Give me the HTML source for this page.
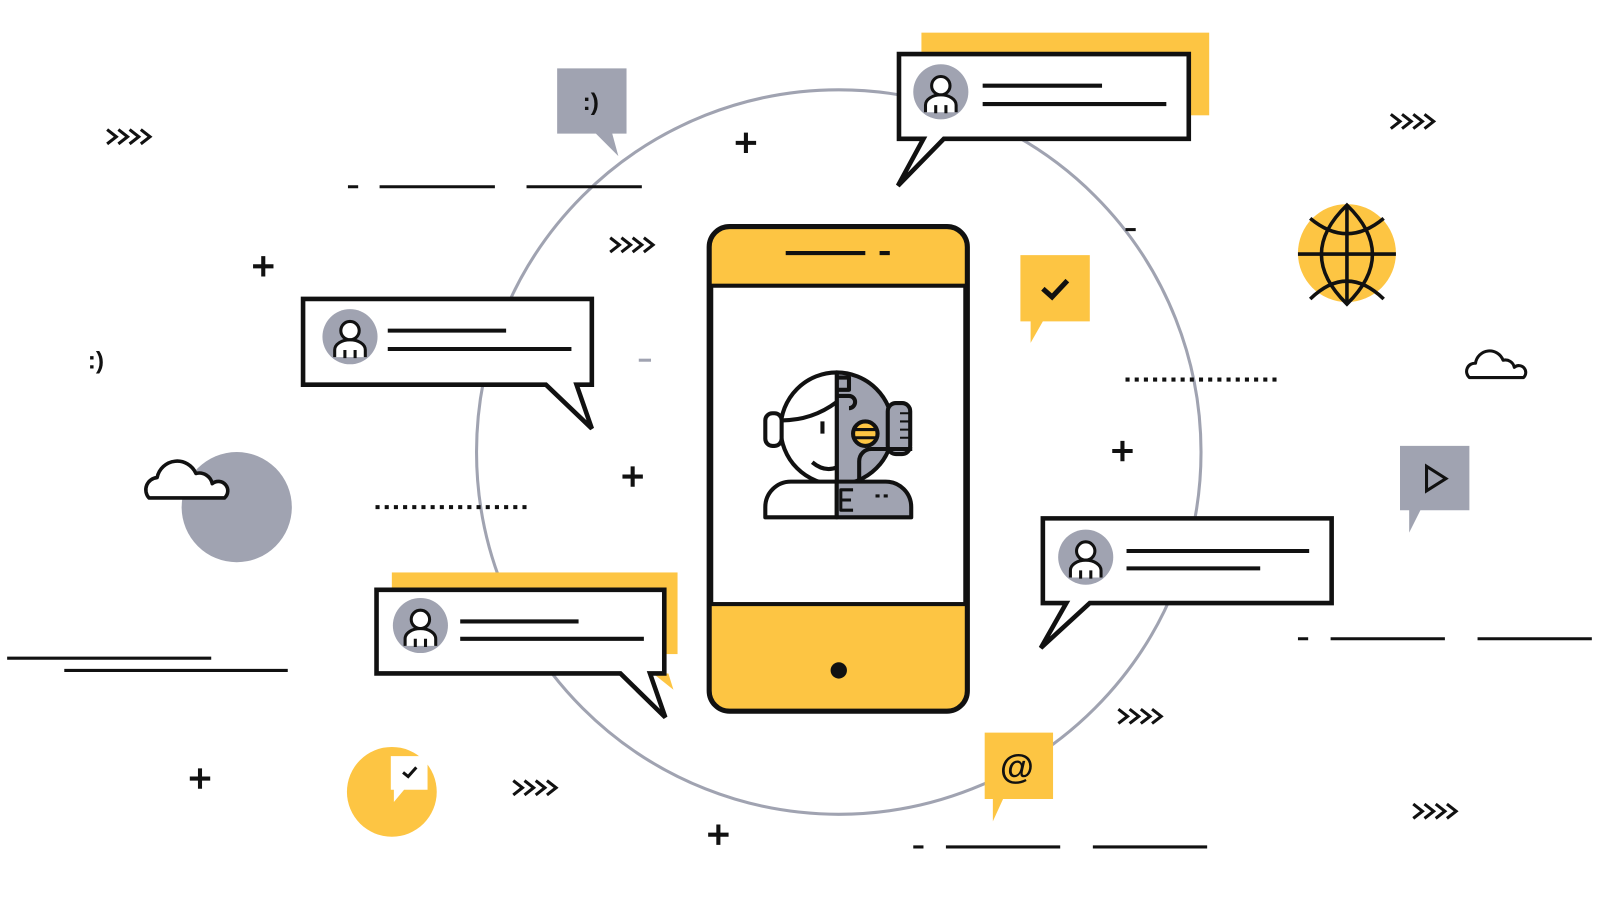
<!DOCTYPE html>
<html><head><meta charset="utf-8"><style>html,body{margin:0;padding:0;background:#fff;width:1600px;height:900px;overflow:hidden}svg{display:block}</style></head>
<body>
<svg width="1600" height="900" viewBox="0 0 1568 882" xmlns="http://www.w3.org/2000/svg" font-family="Liberation Sans, sans-serif">
<defs>
<g id="av"><circle r="27" fill="#a0a3b1"/><circle cy="-6" r="9" fill="#fff" stroke="#111" stroke-width="3"/><path d="M-15 20 v-7 a15 10 0 0 1 30 0 v7" fill="#fff" stroke="#111" stroke-width="3"/><path d="M-5 13v8M5 13v8" stroke="#111" stroke-width="3"/></g>
<g id="chev" fill="none" stroke="#111" stroke-width="3"><path d="M0 0l9 7-9 7M11 0l9 7-9 7M22 0l9 7-9 7M33 0l9 7-9 7"/></g>
<g id="plus" stroke="#111" stroke-width="4"><path d="M-10 0h20M0 -10v20"/></g>
</defs>
<circle cx="822" cy="443" r="355" fill="none" stroke="#a0a3b1" stroke-width="3"/>

<g stroke="#111" stroke-width="3">
<path d="M341 183h10M372 183h113M516 183h113"/>
<path d="M7 645h200M63 657h219"/>
<path d="M1272 626h10M1304 626h112M1448 626h112"/>
<path d="M895 830h10M927 830h112M1071 830h112"/>
<path d="M1103 225h10"/>
</g>
<path d="M626 353h12" stroke="#a0a3b1" stroke-width="3"/>
<path d="M368 497h148" stroke="#111" stroke-width="4" stroke-dasharray="4 5"/>
<path d="M1103 372h148" stroke="#111" stroke-width="4" stroke-dasharray="4 5"/>

<use href="#chev" x="105" y="127"/><use href="#chev" x="598" y="233"/><use href="#chev" x="1363" y="112"/>
<use href="#chev" x="1096" y="695"/><use href="#chev" x="503" y="765"/><use href="#chev" x="1385" y="788"/>
<use href="#plus" x="258" y="261"/><use href="#plus" x="731" y="140"/><use href="#plus" x="620" y="467"/>
<use href="#plus" x="1100" y="442"/><use href="#plus" x="196" y="763"/><use href="#plus" x="704" y="818"/>
<text x="86" y="361" font-size="24" font-weight="bold" fill="#111">:)</text>

<circle cx="232" cy="497" r="54" fill="#a0a3b1"/>
<path d="M146 488 a12 12 0 0 1 8-20 a20 20 0 0 1 38-4 a13 13 0 0 1 16 10 a8 8 0 0 1 12 14 z" fill="#fff" stroke="#111" stroke-width="3.5" stroke-linejoin="round"/>
<path d="M1440 370 a8 8 0 0 1 6-14 a14 14 0 0 1 27-3 a9 9 0 0 1 11 7 a6 6 0 0 1 9 10 z" fill="#fff" stroke="#111" stroke-width="3" stroke-linejoin="round"/>

<path d="M546 67h68v64h-14l6 22-22-22h-38z" fill="#a0a3b1"/>
<text x="571" y="108" font-size="24" font-weight="bold" fill="#111">:)</text>
<path d="M1000 250h68v65h-46l-12 21v-21h-10z" fill="#fdc543"/>
<path d="M1022 283l9 8 15-16" fill="none" stroke="#111" stroke-width="5"/>
<path d="M1372 437h68v63h-48l-11 22v-22h-9z" fill="#a0a3b1"/>
<path d="M1398 457v24l19-12z" fill="none" stroke="#111" stroke-width="3"/>
<path d="M965 718h67v65h-49l-10 22v-22h-8z" fill="#fdc543"/>
<text x="980" y="763" font-size="34" font-weight="bold" fill="#111">@</text>

<circle cx="1320" cy="248" r="48" fill="#fdc543"/>
<g fill="none" stroke="#111" stroke-width="3.5">
<path d="M1320 201 Q1270 249 1320 298 Q1370 249 1320 201z"/>
<path d="M1320 201v97M1272 249h96"/>
<path d="M1284 214 Q1320 244 1356 214"/>
<path d="M1284 293 Q1320 258 1356 293"/>
</g>

<circle cx="384" cy="776" r="44" fill="#fdc543"/>
<path d="M383 741h36v33h-23l-10 12v-12h-3z" fill="#fff"/>
<path d="M395 757l5 4 8-9" fill="none" stroke="#111" stroke-width="3"/>

<rect x="695" y="222" width="253" height="475" rx="20" fill="#fdc543" stroke="#111" stroke-width="5"/>
<rect x="697" y="280" width="249" height="312" fill="#fff" stroke="#111" stroke-width="4"/>
<path d="M770 248h78M862 248h10" stroke="#111" stroke-width="4"/>
<circle cx="822" cy="657" r="8" fill="#111"/>
<g stroke="#111" stroke-width="4" stroke-linejoin="round">
<path d="M820 365 a55 55 0 0 1 0 110 z" fill="#a0a3b1"/>
<path d="M820 365 a55 55 0 0 0 0 110 z" fill="#fff"/>
<rect x="870" y="395" width="22" height="50" rx="8" fill="#a0a3b1"/>
<path d="M882 405h10M882 413h10M882 421h10M882 429h10" stroke-width="2"/>
<rect x="750" y="405" width="16" height="32" rx="7" fill="#fff"/>
<path d="M750 507 v-10 a25 25 0 0 1 25-25 h45 v35 z" fill="#fff"/>
<path d="M820 507 v-35 h48 a25 25 0 0 1 25 25 v10 z" fill="#a0a3b1"/>
<path d="M766 412 q30 0 54 -18" fill="none"/>
<path d="M820 370 h12 v12 h-12 M820 388 h12 a6 6 0 0 1 0 12" fill="none"/>
<path d="M894 440 h-40 a12 12 0 0 0 -12 12 v20" fill="none"/>
<circle cx="848" cy="425" r="12" fill="#fdc543"/>
<path d="M837 421h22M837 429h22" stroke-width="3"/>
<path d="M806 413v12M796 453 q12 10 24 5" fill="none"/>
<path d="M836 480h-12v20h12M824 490h10M858 486h4M866 486h4" fill="none" stroke-width="3"/>
</g>

<g stroke="#111" stroke-width="4.5" stroke-linejoin="miter">
<rect x="903" y="32" width="282" height="81" fill="#fdc543" stroke="none"/>
<path d="M881 53h284v83h-240l-45 46 25-46h-24z" fill="#fff"/>
<path d="M297 293h283v84h-15l15 43-45-43h-238z" fill="#fff"/>
<rect x="384" y="561" width="280" height="80" fill="#fdc543" stroke="none"/>
<path d="M640 660l20 16-5-16z" fill="#fdc543" stroke="none"/>
<path d="M369 578h282v82h-14l15 43-44-43h-239z" fill="#fff"/>
<path d="M1022 508h283v83h-237l-48 44 25-44h-23z" fill="#fff"/>
</g>
<use href="#av" x="922" y="90"/><use href="#av" x="343" y="330"/><use href="#av" x="412" y="613"/><use href="#av" x="1064" y="546"/>
<g stroke="#111" stroke-width="4">
<path d="M963 84h117M963 102h180"/>
<path d="M380 324h116M380 342h180"/>
<path d="M451 609h116M451 626h180"/>
<path d="M1104 540h179M1104 557h131"/>
</g>
</svg>
</body></html>
